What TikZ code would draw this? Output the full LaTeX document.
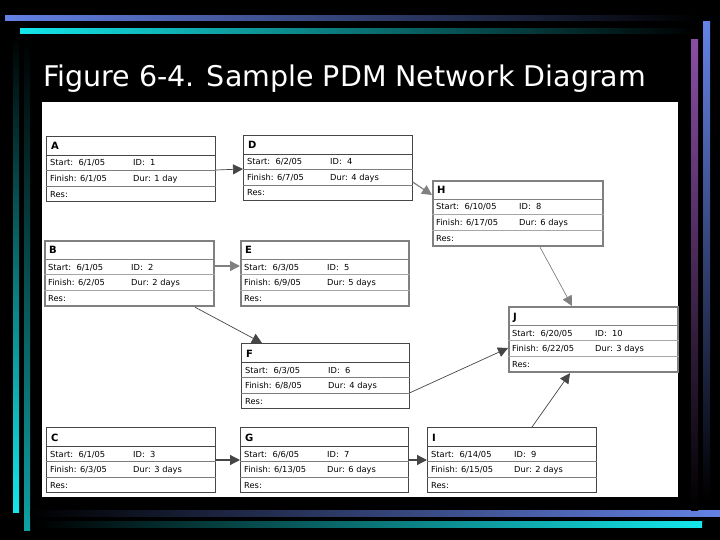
\documentclass[tikz,border=0pt]{standalone}
\usepackage{fontspec}
\setmainfont{DejaVu Sans}
\usetikzlibrary{arrows.meta}
\definecolor{crit}{RGB}{128,128,128}
\definecolor{norm}{RGB}{70,70,70}
\definecolor{barblue}{RGB}{100,130,230}
\definecolor{barcyan}{RGB}{20,230,235}
\tikzset{
  x=1pt,y=-1pt,
  ttl/.style={font=\fontsize{10}{11}\selectfont\bfseries,anchor=base west,inner sep=0},
  fld/.style={font=\fontsize{8.3}{9}\selectfont,anchor=base west,inner sep=0},
  con/.style={draw=#1,line width=0.7pt,-{Triangle[length=10pt,width=10pt]}},
}
\newcommand\pdmbox[9]{%
  \node[draw=#5,line width=#6,minimum width=#4pt,minimum height=65pt,inner sep=0,anchor=north west,fill=white] (#1) at (#2,#3) {};
  \draw[#5,line width=0.8pt] ([yshift=-19pt]#1.north west) -- ([yshift=-19pt]#1.north east);
  \draw[#5!70,line width=0.6pt] ([yshift=-34.5pt]#1.north west) -- ([yshift=-34.5pt]#1.north east);
  \draw[#5!70,line width=0.6pt] ([yshift=-50pt]#1.north west) -- ([yshift=-50pt]#1.north east);
  \node[ttl] at ([xshift=5pt,yshift=-14pt]#1.north west) {#7};
  \node[fld] at ([xshift=4pt,yshift=-30pt]#1.north west) {Start:\ \ #8};
  \node[fld] at ([xshift=87pt,yshift=-30pt]#1.north west) {ID:\ \ #9};
  \node[fld] at ([xshift=4pt,yshift=-61pt]#1.north west) {Res:};
}
\newcommand\pdmfin[3]{%
  \node[fld] at ([xshift=4pt,yshift=-45.5pt]#1.north west) {Finish: #2};
  \node[fld] at ([xshift=87pt,yshift=-45.5pt]#1.north west) {Dur: #3};
}
\begin{document}
\begin{tikzpicture}
\useasboundingbox (0,0) rectangle (720,540);
\fill[black] (0,0) rectangle (720,540);
\shade[left color=barblue,right color=black] (5,16) rectangle (700,21);
\shade[left color=barcyan,right color=black] (20,29) rectangle (695,34);
\shade[top color=black,bottom color=barcyan] (13,35) rectangle (19,512);
\shade[top color=black,bottom color=barcyan!70!black] (24,40) rectangle (30,530);
\shade[left color=black,right color=barblue] (30,510) rectangle (720,516);
\shade[left color=black,right color=barcyan] (36,521) rectangle (702,527);
\shade[top color=barblue!60!purple,bottom color=black] (691,40) rectangle (698,510);
\shade[top color=barblue,bottom color=black] (703,22) rectangle (710,500);
\node[anchor=base west,inner sep=0,text=white,font=\fontsize{28.5}{32}\selectfont] (title) at (43,87) {Figure 6-4. Sample PDM Network Diagram};
\fill[white] (42,102) rectangle (678,497);
\pdmbox{A}{46}{136}{169}{norm}{0.7pt}{A}{6/1/05}{1}\pdmfin{A}{6/1/05}{1 day}
\pdmbox{D}{243}{135}{169}{norm}{0.7pt}{D}{6/2/05}{4}\pdmfin{D}{6/7/05}{4 days}
\pdmbox{H}{432}{180}{170}{crit}{2.2pt}{H}{6/10/05}{8}\pdmfin{H}{6/17/05}{6 days}
\pdmbox{B}{44}{240}{169}{crit}{2.2pt}{B}{6/1/05}{2}\pdmfin{B}{6/2/05}{2 days}
\pdmbox{E}{240}{240}{168}{crit}{2.2pt}{E}{6/3/05}{5}\pdmfin{E}{6/9/05}{5 days}
\pdmbox{J}{508}{306}{169}{crit}{2.2pt}{J}{6/20/05}{10}\pdmfin{J}{6/22/05}{3 days}
\pdmbox{F}{241}{343}{168}{norm}{0.7pt}{F}{6/3/05}{6}\pdmfin{F}{6/8/05}{4 days}
\pdmbox{C}{46}{427}{169}{norm}{0.7pt}{C}{6/1/05}{3}\pdmfin{C}{6/3/05}{3 days}
\pdmbox{G}{240}{427}{168}{norm}{0.7pt}{G}{6/6/05}{7}\pdmfin{G}{6/13/05}{6 days}
\pdmbox{I}{427}{427}{169}{norm}{0.7pt}{I}{6/14/05}{9}\pdmfin{I}{6/15/05}{2 days}
\draw[con=norm] ([yshift=-34pt]A.north east) -- ([yshift=-34pt]D.north west);
\draw[con=crit,line width=1.5pt] ([yshift=-26pt]B.north east) -- ([yshift=-26pt]E.north west);
\draw[con=crit,line width=1.2pt] ([yshift=-47pt]D.north east) -- ([yshift=-15pt]H.north west);
\draw[con=crit] ([xshift=108pt]H.south west) -- ([xshift=64pt]J.north west);
\draw[con=norm] ([xshift=151pt]B.south west) -- ([xshift=21pt]F.north west);
\draw[con=norm] ([yshift=-17pt]F.east) -- ([yshift=-42pt]J.north west);
\draw[con=norm] ([xshift=105pt]I.north west) -- ([xshift=62pt]J.south west);
\draw[con=norm,line width=1.2pt] ([yshift=-33pt]C.north east) -- ([yshift=-33pt]G.north west);
\draw[con=norm,line width=1.2pt] ([yshift=-33pt]G.north east) -- ([yshift=-33pt]I.north west);
\end{tikzpicture}
\end{document}
